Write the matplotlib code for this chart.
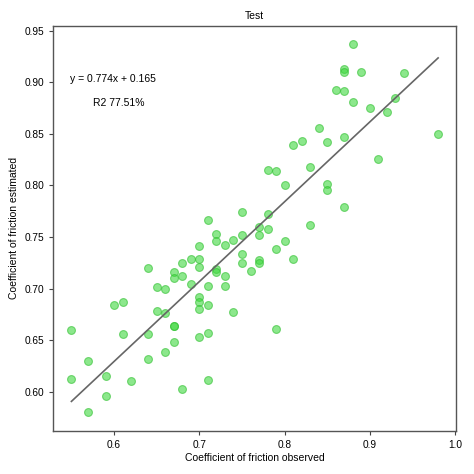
import numpy as np
import matplotlib
matplotlib.use("Agg")
import matplotlib.pyplot as plt

plt.rcParams['font.family'] = ['Liberation Sans', 'DejaVu Sans']

# observed vs estimated coefficient of friction
observed = [0.55, 0.55, 0.57, 0.57, 0.59, 0.59, 0.60, 0.61, 0.61, 0.62,
            0.64, 0.64, 0.64, 0.65, 0.65, 0.66, 0.66, 0.66,
            0.67, 0.67, 0.67, 0.67, 0.67, 0.68, 0.68, 0.68, 0.69, 0.69,
            0.70, 0.70, 0.70, 0.70, 0.70, 0.70, 0.70,
            0.71, 0.71, 0.71, 0.71, 0.71, 0.72, 0.72, 0.72, 0.72,
            0.73, 0.73, 0.73, 0.74, 0.74, 0.75, 0.75, 0.75, 0.75, 0.76,
            0.77, 0.77, 0.77, 0.77, 0.78, 0.78, 0.78, 0.79, 0.79, 0.79,
            0.80, 0.80, 0.81, 0.81, 0.82, 0.83, 0.83, 0.84, 0.85, 0.85, 0.85,
            0.86, 0.87, 0.87, 0.87, 0.87, 0.87, 0.88, 0.88, 0.89, 0.90,
            0.91, 0.92, 0.93, 0.94, 0.98]
estimated = [0.660, 0.612, 0.630, 0.580, 0.615, 0.596, 0.684, 0.687, 0.656, 0.610,
             0.720, 0.656, 0.632, 0.702, 0.678, 0.700, 0.676, 0.639,
             0.716, 0.710, 0.664, 0.664, 0.648, 0.725, 0.712, 0.603, 0.729, 0.704,
             0.741, 0.729, 0.721, 0.692, 0.687, 0.680, 0.653,
             0.766, 0.703, 0.684, 0.657, 0.611, 0.753, 0.746, 0.719, 0.716,
             0.742, 0.712, 0.703, 0.747, 0.677, 0.774, 0.752, 0.734, 0.725, 0.717,
             0.760, 0.752, 0.728, 0.725, 0.815, 0.772, 0.758, 0.814, 0.738, 0.661,
             0.800, 0.746, 0.839, 0.729, 0.843, 0.818, 0.762, 0.856, 0.842, 0.801, 0.796,
             0.892, 0.913, 0.910, 0.891, 0.847, 0.779, 0.937, 0.881, 0.910, 0.875,
             0.826, 0.871, 0.885, 0.909, 0.850]

slope = 0.774
intercept = 0.165
r2 = 77.51

fig = plt.figure(figsize=(4.74, 4.74), dpi=100)
ax = fig.add_axes([0.112, 0.091, 0.851, 0.855])

ax.scatter(observed, estimated, s=32, color='#40d840', alpha=0.6,
           edgecolors='#30c030', linewidths=0.8, zorder=2)

xs = np.array([min(observed), max(observed)])
ax.plot(xs, slope * xs + intercept, color='#666666', linewidth=1.2, zorder=3)

ax.text(0.548, 0.9034, 'y = %.3fx + %.3f' % (slope, intercept),
        fontsize=7.5, va='center', ha='left')
ax.text(0.5755, 0.880, 'R2 %.2f%%' % r2, fontsize=7.5, va='center', ha='left')

ax.set_title('Test', fontsize=7.5, pad=5)
ax.set_xlabel('Coefficient of friction observed', fontsize=7.5, labelpad=2)
ax.set_ylabel('Coefficient of friction estimated', fontsize=7.5, labelpad=4)
ax.tick_params(labelsize=7.3, length=3, width=0.8, color='#444444')
for sp in ax.spines.values():
    sp.set_color('#555555')
    sp.set_linewidth(1.0)

fig.savefig('out.png', dpi=100)
